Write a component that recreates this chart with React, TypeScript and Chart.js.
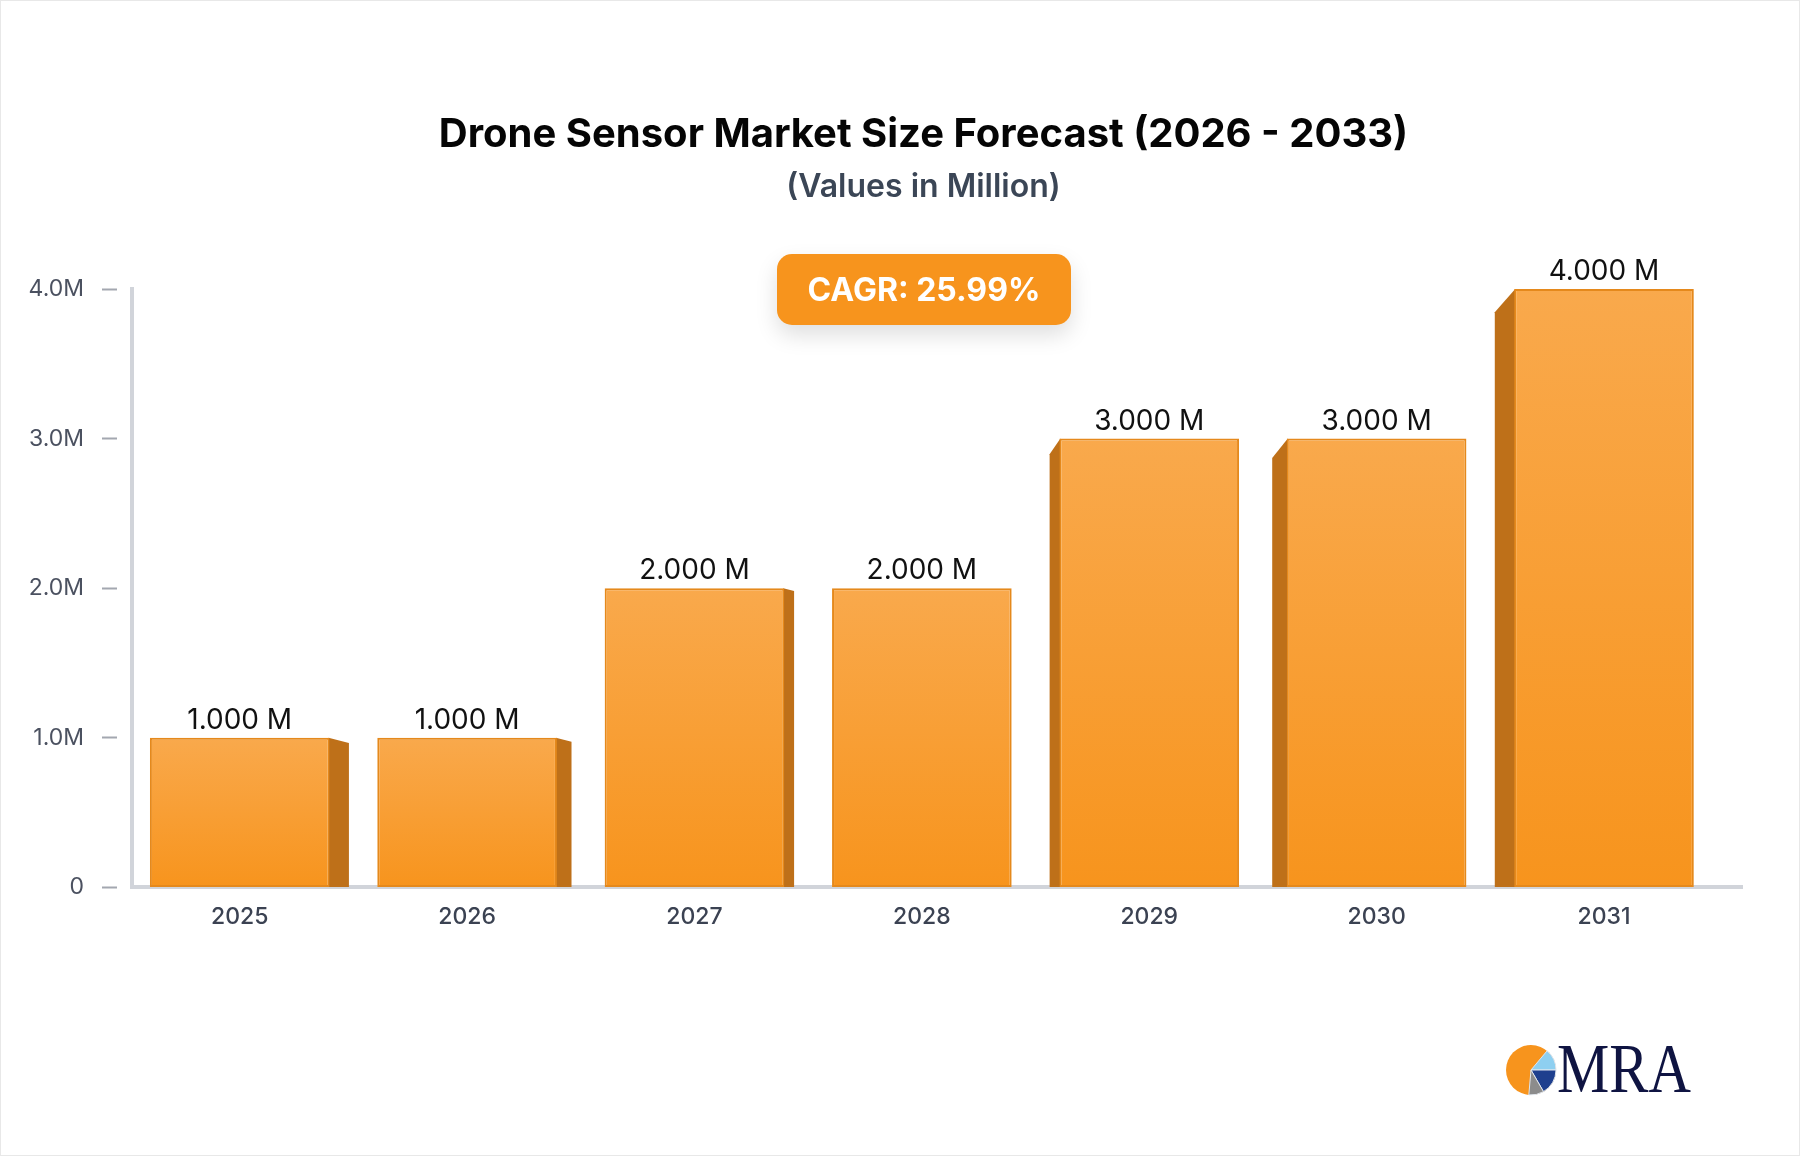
import React, { useEffect, useRef } from 'react';
import { Chart, registerables } from 'chart.js';

Chart.register(...registerables);

// ---- data ----
const years = ['2025', '2026', '2027', '2028', '2029', '2030', '2031'];
const marketSize = [1, 1, 2, 2, 3, 3, 4];
const yTickLabels = ['0', '1.0M', '2.0M', '3.0M', '4.0M'];
const titleText = 'Drone Sensor Market Size Forecast (2026 - 2033)';
const subtitleText = '(Values in Million)';
const cagrText = 'CAGR: 25.99%';

const FONT = 'Inter, "Noto Sans", sans-serif';

const bar3dPlugin = {
  id: 'bar3dSides',
  beforeDatasetsDraw(chart: any) {
    const meta = chart.getDatasetMeta(0);
    const ctx = chart.ctx;
    const mid = (meta.data.length - 1) / 2;
    meta.data.forEach((bar: any, i: number) => {
      const p = bar.getProps(['x', 'y', 'base', 'width'], true);
      const off = i - mid;
      if (Math.abs(off) < 0.5) return;
      const depth = 6 + 4.8 * Math.abs(off);
      ctx.save();
      ctx.fillStyle = '#BE7019';
      ctx.beginPath();
      if (off < 0) {
        const xr = p.x + p.width / 2 - 1;
        const dy = depth * 0.25;
        ctx.moveTo(xr, p.y);
        ctx.lineTo(xr + depth, p.y + dy);
        ctx.lineTo(xr + depth, p.base);
        ctx.lineTo(xr, p.base);
      } else {
        const xl = p.x - p.width / 2 + 1;
        const dy = depth * 0.8 + 7;
        ctx.moveTo(xl, p.y);
        ctx.lineTo(xl - depth, p.y + dy);
        ctx.lineTo(xl - depth, p.base);
        ctx.lineTo(xl, p.base);
      }
      ctx.closePath();
      ctx.fill();
      ctx.restore();
    });
  },
};

const valueLabelPlugin = {
  id: 'valueLabels',
  afterDatasetsDraw(chart: any) {
    const meta = chart.getDatasetMeta(0);
    const ctx = chart.ctx;
    ctx.save();
    ctx.font = `400 28px ${FONT}`;
    ctx.fillStyle = '#111111';
    ctx.textAlign = 'center';
    ctx.textBaseline = 'alphabetic';
    meta.data.forEach((bar: any, i: number) => {
      const p = bar.getProps(['x', 'y'], true);
      ctx.fillText(`${marketSize[i].toFixed(3)} M`, p.x, p.y - 9);
    });
    ctx.restore();
  },
};

function BarChart() {
  const ref = useRef<HTMLCanvasElement | null>(null);
  useEffect(() => {
    if (!ref.current) return;
    Chart.defaults.font.family = FONT;
    const chart = new Chart(ref.current, {
      type: 'bar',
      data: {
        datasets: [
          {
            data: years.map((_, i) => ({ x: i, y: marketSize[i] })),
            backgroundColor: (c: any) => {
              const ch = c.chart;
              if (!ch.chartArea || c.type !== 'data' || !c.parsed) return '#F8A040';
              const ys = ch.scales.y;
              const top = ys.getPixelForValue(c.parsed.y);
              const bottom = ys.getPixelForValue(0);
              const g = ch.ctx.createLinearGradient(0, top, 0, bottom);
              g.addColorStop(0, '#F9A94C');
              g.addColorStop(1, '#F7941D');
              return g;
            },
            borderColor: '#E5891C',
            borderWidth: 2,
            borderSkipped: false,
            barPercentage: 0.79,
            categoryPercentage: 1,
          },
        ],
      },
      options: {
        animation: false,
        responsive: false,
        events: [],
        layout: { padding: { top: 289, left: 0, right: 58, bottom: 209 } },
        plugins: {
          legend: { display: false },
          tooltip: { enabled: false },
          title: { display: false },
        },
        scales: {
          x: {
            type: 'linear',
            min: -0.4737,
            max: 6.6069,
            offset: false,
            grid: { display: false, drawTicks: false },
            border: { display: true, width: 4, color: '#D1D4DA' },
            ticks: {
              stepSize: 1,
              includeBounds: false,
              autoSkip: false,
              maxRotation: 0,
              padding: 16,
              color: '#3B4252',
              font: { size: 23, weight: 500 },
              callback: (v: any) => years[v] ?? '',
            },
          },
          y: {
            min: 0,
            max: 4,
            afterFit: (s: any) => {
              s.width = 132;
            },
            grid: {
              display: true,
              drawOnChartArea: false,
              drawTicks: true,
              tickLength: 30,
              tickWidth: 2,
              tickColor: '#A3A7B0',
              tickBorderDash: [15, 15],
            },
            border: { display: true, width: 4, color: '#D1D4DA' },
            ticks: {
              stepSize: 1,
              padding: 18,
              color: '#4B5160',
              font: { size: 23, weight: 400 },
              callback: (_v: any, idx: number) => yTickLabels[idx] ?? '',
            },
          },
        },
      } as any,
      plugins: [bar3dPlugin, valueLabelPlugin],
    });
    return () => chart.destroy();
  }, []);
  return <canvas ref={ref} width={1800} height={1156} style={{ display: 'block' }} />;
}

function Logo() {
  const cx = 31;
  const cy = 35;
  const r = 25;
  const pt = (deg: number) => {
    const a = (deg * Math.PI) / 180;
    return `${cx + r * Math.cos(a)},${cy + r * Math.sin(a)}`;
  };
  const slice = (a0: number, a1: number) => `M${cx},${cy} L${pt(a0)} A${r},${r} 0 0 1 ${pt(a1)} Z`;
  return (
    <svg
      width={200}
      height={70}
      style={{ position: 'absolute', left: 1500, top: 1035 }}
      viewBox="0 0 200 70"
    >
      <circle cx={cx} cy={cy} r={r} fill="#F7941D" />
      <path d={slice(-50, 0)} fill="#8ECFF0" stroke="#dfe6ee" strokeWidth={1} />
      <path d={slice(0, 60)} fill="#1E3F8E" stroke="#dfe6ee" strokeWidth={1} />
      <path d={slice(60, 95)} fill="#8C8C8C" stroke="#dfe6ee" strokeWidth={1} />
      <text
        x={57}
        y={56.7}
        fontFamily='"Liberation Serif", "DejaVu Serif", serif'
        fontSize={70}
        fill="#0F1442"
        textLength={134}
        lengthAdjust="spacingAndGlyphs"
      >
        MRA
      </text>
    </svg>
  );
}

export default function App() {
  const center = 923.5;
  return (
    <div
      style={{
        position: 'absolute',
        left: 0,
        top: 0,
        width: 1800,
        height: 1156,
        background: '#ffffff',
        overflow: 'hidden',
        fontFamily: FONT,
      }}
    >
      <BarChart />
      <div
        style={{
          position: 'absolute',
          left: center,
          top: 109,
          transform: 'translateX(-50%)',
          whiteSpace: 'nowrap',
          fontSize: 40,
          lineHeight: '48px',
          fontWeight: 700,
          color: '#050505',
        }}
      >
        {titleText}
      </div>
      <div
        style={{
          position: 'absolute',
          left: center,
          top: 167,
          transform: 'translateX(-50%)',
          whiteSpace: 'nowrap',
          fontSize: 32,
          lineHeight: '38.4px',
          fontWeight: 600,
          color: '#3B4656',
        }}
      >
        {subtitleText}
      </div>
      <div
        style={{
          position: 'absolute',
          left: 777,
          top: 254,
          width: 294,
          height: 71,
          borderRadius: 15,
          background: '#F7941D',
          color: '#ffffff',
          fontSize: 32,
          fontWeight: 700,
          display: 'flex',
          alignItems: 'center',
          justifyContent: 'center',
          boxShadow: '0 10px 22px rgba(0,0,0,0.13)',
          whiteSpace: 'nowrap',
        }}
      >
        {cagrText}
      </div>
      <Logo />
      <div
        style={{
          position: 'absolute',
          inset: 0,
          border: '1px solid #E8E8E8',
          pointerEvents: 'none',
        }}
      />
    </div>
  );
}
